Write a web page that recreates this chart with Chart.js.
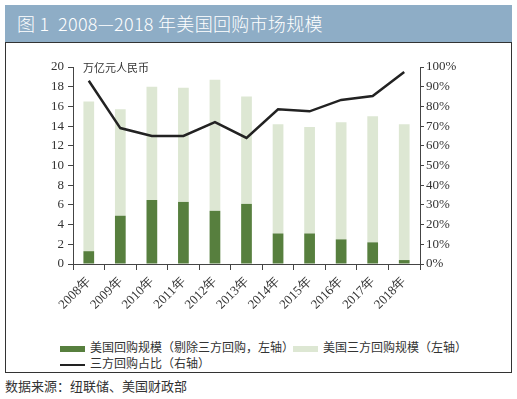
<!DOCTYPE html>
<html>
<head>
<meta charset="utf-8">
<script src="https://cdn.jsdelivr.net/npm/chart.js@4"></script>
<style>
  body { margin: 0; background: #fff; width: 517px; height: 399px; position: relative; font-family: "Noto Sans CJK SC", "Noto Sans", sans-serif; overflow: hidden; }
  #titulo { position: absolute; left: 5px; top: 5px; width: 507px; height: 37px; background: #8eadc6; color: #fff; font-size: 18px; line-height: 37px; box-sizing: border-box; padding-left: 12px; font-weight: 300; letter-spacing: 0.3px; }
  #marco { position: absolute; left: 5px; top: 42px; width: 507px; height: 331px; border: 1px solid #333; box-sizing: border-box; }
  #lienzo { position: absolute; left: 6px; top: 43px; width: 505px; height: 292px; }
  #unidad { position: absolute; left: 83px; top: 59px; font-size: 11px; color: #333; }
  .ley { position: absolute; font-size: 12px; color: #333; line-height: 14px; }
  .ley span.m { display: inline-block; width: 25px; vertical-align: middle; margin-right: 5px; }
  #fuente { position: absolute; left: 5px; top: 376px; font-size: 13px; color: #333; }
</style>
</head>
<body>
<div id="titulo">图 1&nbsp; 2008—2018 年美国回购市场规模</div>
<div id="marco"></div>
<div id="lienzo"><canvas id="grafica" width="505" height="292"></canvas></div>
<div id="unidad">万亿元人民币</div>
<div class="ley" style="left:60px; top:340px;"><span class="m" style="height:6px; background:#577f3e;"></span><span id="t1"></span></div>
<div class="ley" style="left:293px; top:340px;"><span class="m" style="height:6px; background:#dde7d3;"></span><span id="t2"></span></div>
<div class="ley" style="left:60px; top:356px;"><span class="m" style="height:2px; background:#222;"></span><span id="t3"></span></div>
<div id="fuente">数据来源：纽联储、美国财政部</div>
<script>
var anios = ['2008年', '2009年', '2010年', '2011年', '2012年', '2013年', '2014年', '2015年', '2016年', '2017年', '2018年'];
var repoSinTripartito = [1.3, 4.9, 6.5, 6.3, 5.4, 6.1, 3.1, 3.1, 2.5, 2.2, 0.4];
var repoTripartito = [15.2, 10.8, 11.5, 11.6, 13.3, 10.9, 11.1, 10.8, 11.9, 12.8, 13.8];
var proporcionTripartito = [93, 69, 65, 65, 72, 64, 78.5, 77.5, 83.3, 85.3, 97.5];
var nombres = ['美国回购规模（剔除三方回购，左轴）', '美国三方回购规模（左轴）', '三方回购占比（右轴）'];

document.getElementById('t1').textContent = nombres[0];
document.getElementById('t2').textContent = nombres[1];
document.getElementById('t3').textContent = nombres[2];

var fuenteEje = { family: 'Times New Roman, Liberation Serif, DejaVu Serif, serif', size: 13 };
var colorEje = '#444';

var ctx = document.getElementById('grafica').getContext('2d');
var myChart = new Chart(ctx, {
    type: 'bar',
    data: {
        labels: anios,
        datasets: [{
            label: nombres[0],
            data: repoSinTripartito,
            backgroundColor: '#577f3e',
            yAxisID: 'y',
            stack: 'repo',
            order: 2,
            barPercentage: 0.34,
            categoryPercentage: 1
        }, {
            label: nombres[1],
            data: repoTripartito,
            backgroundColor: '#dde7d3',
            yAxisID: 'y',
            stack: 'repo',
            order: 2,
            barPercentage: 0.34,
            categoryPercentage: 1
        }, {
            type: 'line',
            label: nombres[2],
            data: proporcionTripartito,
            borderColor: '#222',
            borderWidth: 2.5,
            pointRadius: 0,
            tension: 0,
            fill: false,
            yAxisID: 'y1',
            order: 0
        }]
    },
    options: {
        responsive: false,
        animation: false,
        layout: { padding: { left: 0, right: 0, top: 24, bottom: 0 } },
        plugins: { legend: { display: false }, tooltip: { enabled: false } },
        scales: {
            x: {
                stacked: true,
                afterFit: function (s) { s.height = 71; },
                border: { display: true, color: colorEje, width: 1 },
                grid: { offset: true, drawOnChartArea: false, drawTicks: true, tickLength: 6, color: colorEje },
                ticks: { minRotation: 45, maxRotation: 45, font: fuenteEje, color: '#333', padding: 4 }
            },
            y: {
                position: 'left',
                stacked: true,
                min: 0,
                max: 20,
                afterFit: function (s) { s.width = 67; },
                border: { display: true, color: colorEje, width: 1 },
                grid: { drawOnChartArea: false, drawTicks: true, tickLength: 5, color: colorEje },
                ticks: { stepSize: 2, font: fuenteEje, color: '#333', padding: 4 }
            },
            y1: {
                position: 'right',
                stacked: false,
                min: 0,
                max: 100,
                afterFit: function (s) { s.width = 91; },
                border: { display: true, color: colorEje, width: 1 },
                grid: { drawOnChartArea: false, drawTicks: true, tickLength: 4, color: colorEje },
                ticks: { stepSize: 10, font: fuenteEje, color: '#333', padding: 2, callback: function (v) { return v + '%'; } }
            }
        }
    }
});
</script>
</body>
</html>
